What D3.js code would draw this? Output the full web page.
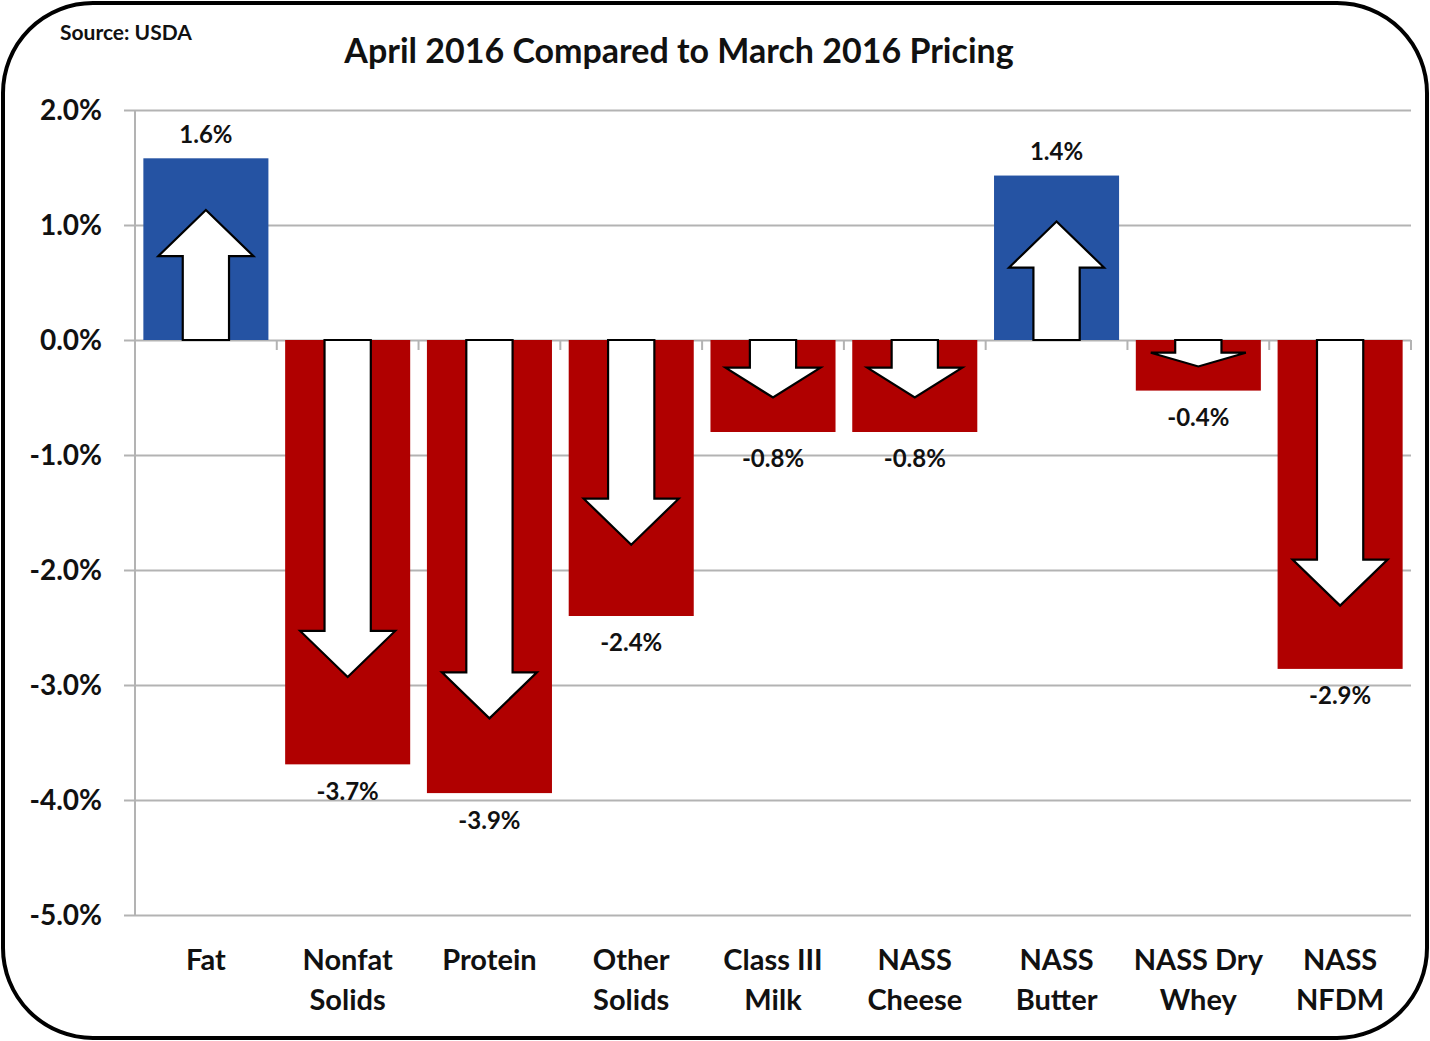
<!DOCTYPE html>
<html>
<head>
<meta charset="UTF-8" />
<title>April 2016 Compared to March 2016 Pricing</title>
<script src="https://cdnjs.cloudflare.com/ajax/libs/d3/7.8.5/d3.min.js"></script>
<style>
    body { margin: 0; background: #fff; }
    svg text { font-family: 'Lato', 'Open Sans', sans-serif; font-weight: 700; fill: #111; }
</style>
</head>
<body>
<div id="chart"></div>
<script>
    // data
    var categories = ["Fat", "Nonfat\nSolids", "Protein", "Other\nSolids", "Class III\nMilk",
                      "NASS\nCheese", "NASS\nButter", "NASS Dry\nWhey", "NASS\nNFDM"];
    var changes = [1.58, -3.69, -3.94, -2.40, -0.80, -0.80, 1.43, -0.44, -2.86];
    // where the hand-drawn arrow tips sit, in % units
    var arrowTips = [1.13, -2.93, -3.29, -1.78, -0.50, -0.50, 1.03, -0.23, -2.31];
    var yTicks = [2, 1, 0, -1, -2, -3, -4, -5];

    var W = 1430, H = 1041;
    var plotL = 135, plotR = 1411, plotT = 110, plotB = 915;

    var pct = function(d){ return d3.format(".1f")(d).replace("\u2212", "-") + "%"; };

    var svg = d3.select("#chart").append("svg")
        .attr("width", W).attr("height", H);

    // rounded frame
    svg.append("rect")
        .attr("x", 3).attr("y", 3)
        .attr("width", W - 6).attr("height", H - 6)
        .attr("rx", 90).attr("ry", 90)
        .attr("fill", "#fff").attr("stroke", "#000").attr("stroke-width", 4);

    var x = d3.scaleBand()
        .domain(categories)
        .range([plotL, plotR])
        .paddingInner(0.118)
        .paddingOuter(0.059);

    var y = d3.scaleLinear()
        .domain([-5, 2])
        .range([plotB, plotT]);

    // gridlines + y axis
    var yAxis = d3.axisLeft(y)
        .tickValues(yTicks)
        .tickSize(-(plotR - plotL + 11))
        .tickFormat(pct);

    var gy = svg.append("g")
        .attr("transform", "translate(" + (plotL - 11) + ",0)")
        .call(yAxis);
    gy.select(".domain").remove();
    gy.selectAll(".tick line").attr("stroke", "#b3b3b3").attr("stroke-width", 2);
    gy.selectAll(".tick text")
        .attr("x", -22)
        .attr("dy", "0.35em")
        .style("font-size", "28px");

    svg.append("line")
        .attr("x1", plotL).attr("x2", plotL)
        .attr("y1", y(2)).attr("y2", y(-5))
        .attr("stroke", "#b3b3b3").attr("stroke-width", 2);

    // small category ticks hanging under the zero line
    var step = x.step();
    svg.selectAll(".cat-tick")
        .data(d3.range(categories.length + 1))
        .enter().append("line")
        .attr("class", "cat-tick")
        .attr("x1", function(i){ return plotL + i * step; })
        .attr("x2", function(i){ return plotL + i * step; })
        .attr("y1", y(0)).attr("y2", y(0) + 10)
        .attr("stroke", "#b3b3b3").attr("stroke-width", 2);

    // bars
    svg.selectAll(".bar")
        .data(changes)
        .enter().append("rect")
        .attr("class", "bar")
        .attr("x", function(d, i){ return x(categories[i]); })
        .attr("width", x.bandwidth())
        .attr("y", function(d){ return y(Math.max(0, d)); })
        .attr("height", function(d){ return Math.abs(y(d) - y(0)); })
        .attr("fill", function(d){ return d >= 0 ? "#2553a3" : "#b00000"; });

    // block arrows
    var arrowPath = function(d, i) {
        var cx = x(categories[i]) + x.bandwidth() / 2;
        var y0 = y(0), y1 = y(arrowTips[i]);
        var dir = y1 < y0 ? -1 : 1;
        var len = Math.abs(y1 - y0);
        var head = Math.min(46, len * 0.52);
        var sw = x.bandwidth() * 0.185, hw = x.bandwidth() * 0.38;
        var yb = y1 - dir * head;
        return "M" + (cx - sw) + "," + y0 +
               "L" + (cx - sw) + "," + yb +
               "L" + (cx - hw) + "," + yb +
               "L" + cx + "," + y1 +
               "L" + (cx + hw) + "," + yb +
               "L" + (cx + sw) + "," + yb +
               "L" + (cx + sw) + "," + y0 + "Z";
    };

    svg.selectAll(".arrow")
        .data(changes)
        .enter().append("path")
        .attr("class", "arrow")
        .attr("d", arrowPath)
        .attr("fill", "#fff")
        .attr("stroke", "#000")
        .attr("stroke-width", 2.2)
        .attr("stroke-linejoin", "miter");

    // value labels
    svg.selectAll(".val")
        .data(changes)
        .enter().append("text")
        .attr("class", "val")
        .attr("x", function(d, i){ return x(categories[i]) + x.bandwidth() / 2; })
        .attr("y", function(d){ return d >= 0 ? y(d) - 24 : y(d) + 27; })
        .attr("dy", "0.35em")
        .attr("text-anchor", "middle")
        .style("font-size", "24px")
        .text(pct);

    // category labels
    var cat = svg.selectAll(".cat")
        .data(categories)
        .enter().append("text")
        .attr("class", "cat")
        .attr("text-anchor", "middle")
        .style("font-size", "29px")
        .attr("transform", function(d){ return "translate(" + (x(d) + x.bandwidth() / 2) + ",960)"; });
    cat.selectAll("tspan")
        .data(function(d){ return d.split("\n"); })
        .enter().append("tspan")
        .attr("x", 0)
        .attr("y", function(d, i){ return i * 40; })
        .attr("dy", "0.35em")
        .text(function(d){ return d; });

    // title and source
    svg.append("text")
        .attr("x", 679).attr("y", 51)
        .attr("dy", "0.35em")
        .attr("text-anchor", "middle")
        .style("font-size", "34px")
        .text("April 2016 Compared to March 2016 Pricing");

    svg.append("text")
        .attr("x", 60).attr("y", 33)
        .attr("dy", "0.35em")
        .style("font-size", "21px")
        .text("Source: USDA");
</script>
</body>
</html>
